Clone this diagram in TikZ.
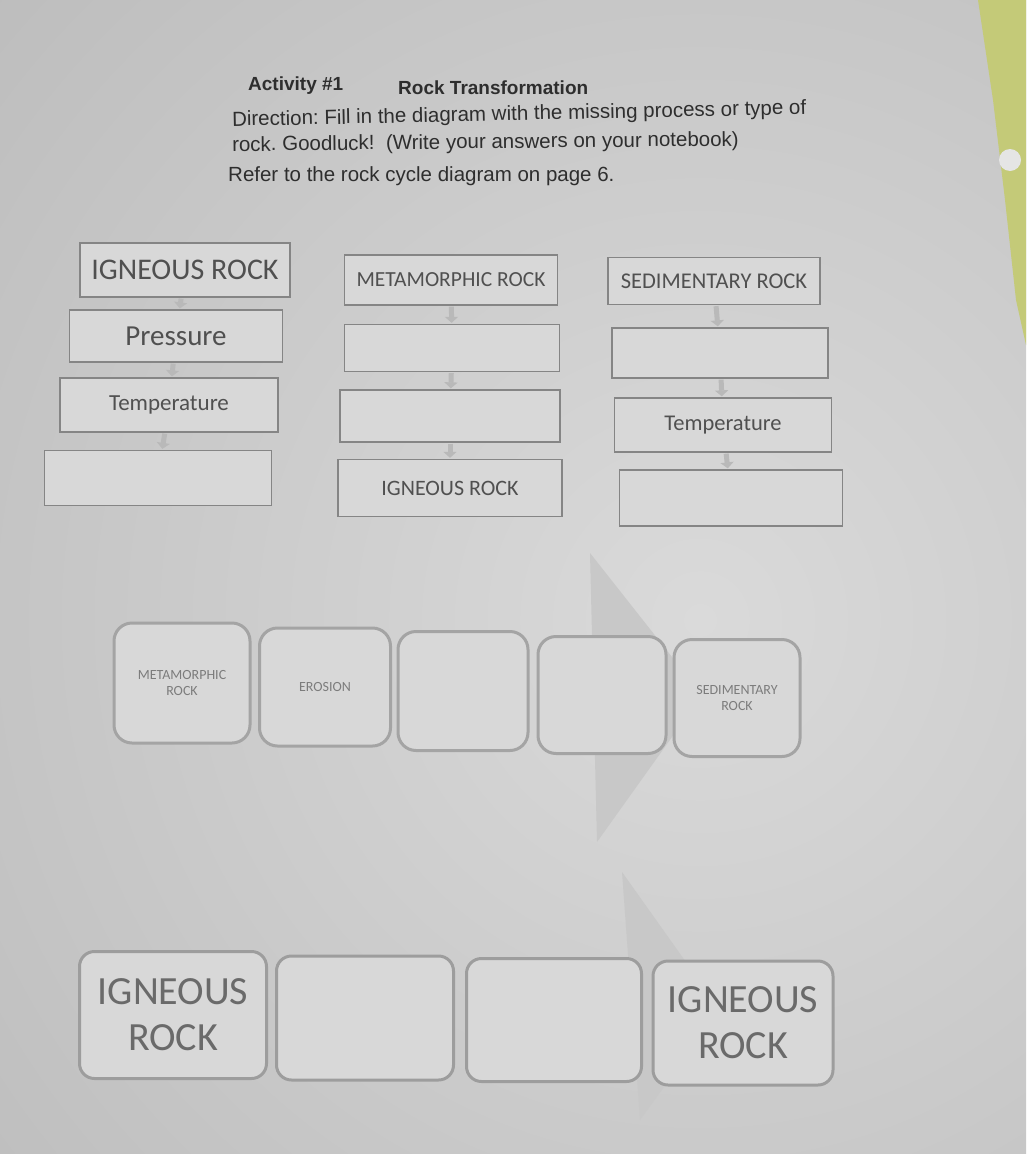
\documentclass[tikz,border=0pt]{standalone}
\usepackage{fontspec}
\setmainfont{Liberation Sans}
\newfontfamily\carl{Carlito}
\usetikzlibrary{arrows.meta}
\definecolor{paperin}{HTML}{DADADA}
\definecolor{paperout}{HTML}{A0A0A0}
\definecolor{boxline}{HTML}{858585}
\definecolor{boxfill}{HTML}{D8D8D8}
\definecolor{inktxt}{HTML}{2E2E2E}
\definecolor{boxtxt}{HTML}{505050}
\definecolor{chev}{HTML}{C8C8C8}
\definecolor{leafgreen}{HTML}{C4CA78}
\tikzset{
  sqbox/.style={draw=boxline, line width=1.3pt, fill=boxfill, text=boxtxt, inner sep=0pt, font=\carl},
  rbox/.style={draw=boxline!75, line width=3pt, fill=boxfill, rounded corners=18pt, text=boxtxt!75, inner sep=0pt, font=\carl\fontsize{14}{16}\selectfont, align=center},
  rbig/.style={draw=boxline!80, line width=3pt, fill=boxfill, rounded corners=15pt, text=boxtxt!85, inner sep=0pt, font=\carl\fontsize{40}{46}\selectfont, align=center},
  flow/.style={draw=gray!55, line width=5pt, -{Triangle[length=6pt,width=13pt]}, shorten <=1pt, shorten >=1pt},
  hdr/.style={text=inktxt, anchor=west, inner sep=0pt}
}
\begin{document}
\frenchspacing
\begin{tikzpicture}[x=1pt,y=-1pt]
\useasboundingbox (0,0) rectangle (1026,1154);
\begin{scope}
\clip (0,0) rectangle (1026,1154);
\shade[inner color=paperin, outer color=paperout] (700,620) circle (1900);
\fill[leafgreen] (978,0) -- (1026,0) -- (1026,345) -- (1016,300) -- (1005,200) -- (993,100) -- cycle;
\fill[gray!20] (1010,160) circle (11);
% faint chevrons behind the rows
\fill[chev] (590,553) -- (702,695) -- (597,842) -- cycle;
\fill[chev] (622,872) -- (720,1010) -- (640,1120) -- cycle;
\end{scope}

% header
\node[hdr, font=\bfseries\fontsize{19}{22}\selectfont] (act) at (248,86) {Activity \#1};
\node[hdr, font=\bfseries\fontsize{19}{22}\selectfont] (ttl) at (398,88) {Rock Transformation};
\node[hdr, font=\fontsize{20.5}{24}\selectfont, rotate=1.2] (dir1) at (232,121) {Direction: Fill in the diagram with the missing process or type of};
\node[hdr, font=\fontsize{20.5}{24}\selectfont, rotate=0.6] (dir2) at (232,146) {rock. Goodluck!\ \ (Write your answers on your notebook)};
\node[hdr, font=\fontsize{20.5}{24}\selectfont] (dir3) at (228,176) {Refer to the rock cycle diagram on page 6.};

% column 1
\node[sqbox, minimum width=210pt, minimum height=54pt, font=\carl\fontsize{30}{32}\selectfont] (c1a) at (185,270) {IGNEOUS ROCK};
\node[sqbox, minimum width=213pt, minimum height=52pt, font=\carl\fontsize{29}{32}\selectfont] (c1b) at (176,336) {Pressure};
\node[sqbox, minimum width=218pt, minimum height=54pt, font=\carl\fontsize{23}{26}\selectfont] (c1c) at (169,405) {Temperature};
\node[sqbox, minimum width=227pt, minimum height=55pt] (c1d) at (158,478) {};
% column 2
\node[sqbox, minimum width=213pt, minimum height=50pt, font=\carl\fontsize{21.5}{24}\selectfont] (c2a) at (451,280) {METAMORPHIC ROCK};
\node[sqbox, minimum width=215pt, minimum height=47pt] (c2b) at (452,348) {};
\node[sqbox, minimum width=220pt, minimum height=52pt] (c2c) at (450,416) {};
\node[sqbox, minimum width=224pt, minimum height=57pt, font=\carl\fontsize{22}{24}\selectfont] (c2d) at (450,488) {IGNEOUS ROCK};
% column 3
\node[sqbox, minimum width=212pt, minimum height=47pt, font=\carl\fontsize{22.5}{24}\selectfont] (c3a) at (714,281) {SEDIMENTARY ROCK};
\node[sqbox, minimum width=216pt, minimum height=50pt] (c3b) at (720,353) {};
\node[sqbox, minimum width=217pt, minimum height=54pt, font=\carl\fontsize{22.5}{24}\selectfont] (c3c) at (723,425) {Temperature};
\node[sqbox, minimum width=223pt, minimum height=56pt] (c3d) at (731,498) {};

% arrows between boxes
\draw[flow] (c1a) -- (c1b);
\draw[flow] (c1b) -- (c1c);
\draw[flow] (c1c) -- (c1d);
\draw[flow] (c2a) -- (c2b);
\draw[flow] (c2b) -- (c2c);
\draw[flow] (c2c) -- (c2d);
\draw[flow] (c3a) -- (c3b);
\draw[flow] (c3b) -- (c3c);
\draw[flow] (c3c) -- (c3d);

% row of rounded boxes
\node[rbox, minimum width=136pt, minimum height=120pt] (r1) at (182,683) {METAMORPHIC\\ROCK};
\node[rbox, minimum width=131pt, minimum height=118pt] (r2) at (325,687) {EROSION};
\node[rbox, minimum width=130pt, minimum height=119pt] (r3) at (463,691) {};
\node[rbox, minimum width=128pt, minimum height=117pt] (r4) at (602,695) {};
\node[rbox, minimum width=126pt, minimum height=117pt] (r5) at (737,698) {SEDIMENTARY\\ROCK};

% bottom row
\node[rbig, minimum width=187pt, minimum height=127pt] (s1) at (173,1015) {IGNEOUS\\ROCK};
\node[rbig, minimum width=177pt, minimum height=124pt] (s2) at (365,1018) {};
\node[rbig, minimum width=175pt, minimum height=123pt] (s3) at (554,1020) {};
\node[rbig, minimum width=180pt, minimum height=124pt] (s4) at (743,1023) {IGNEOUS\\ROCK};
\end{tikzpicture}
\end{document}
